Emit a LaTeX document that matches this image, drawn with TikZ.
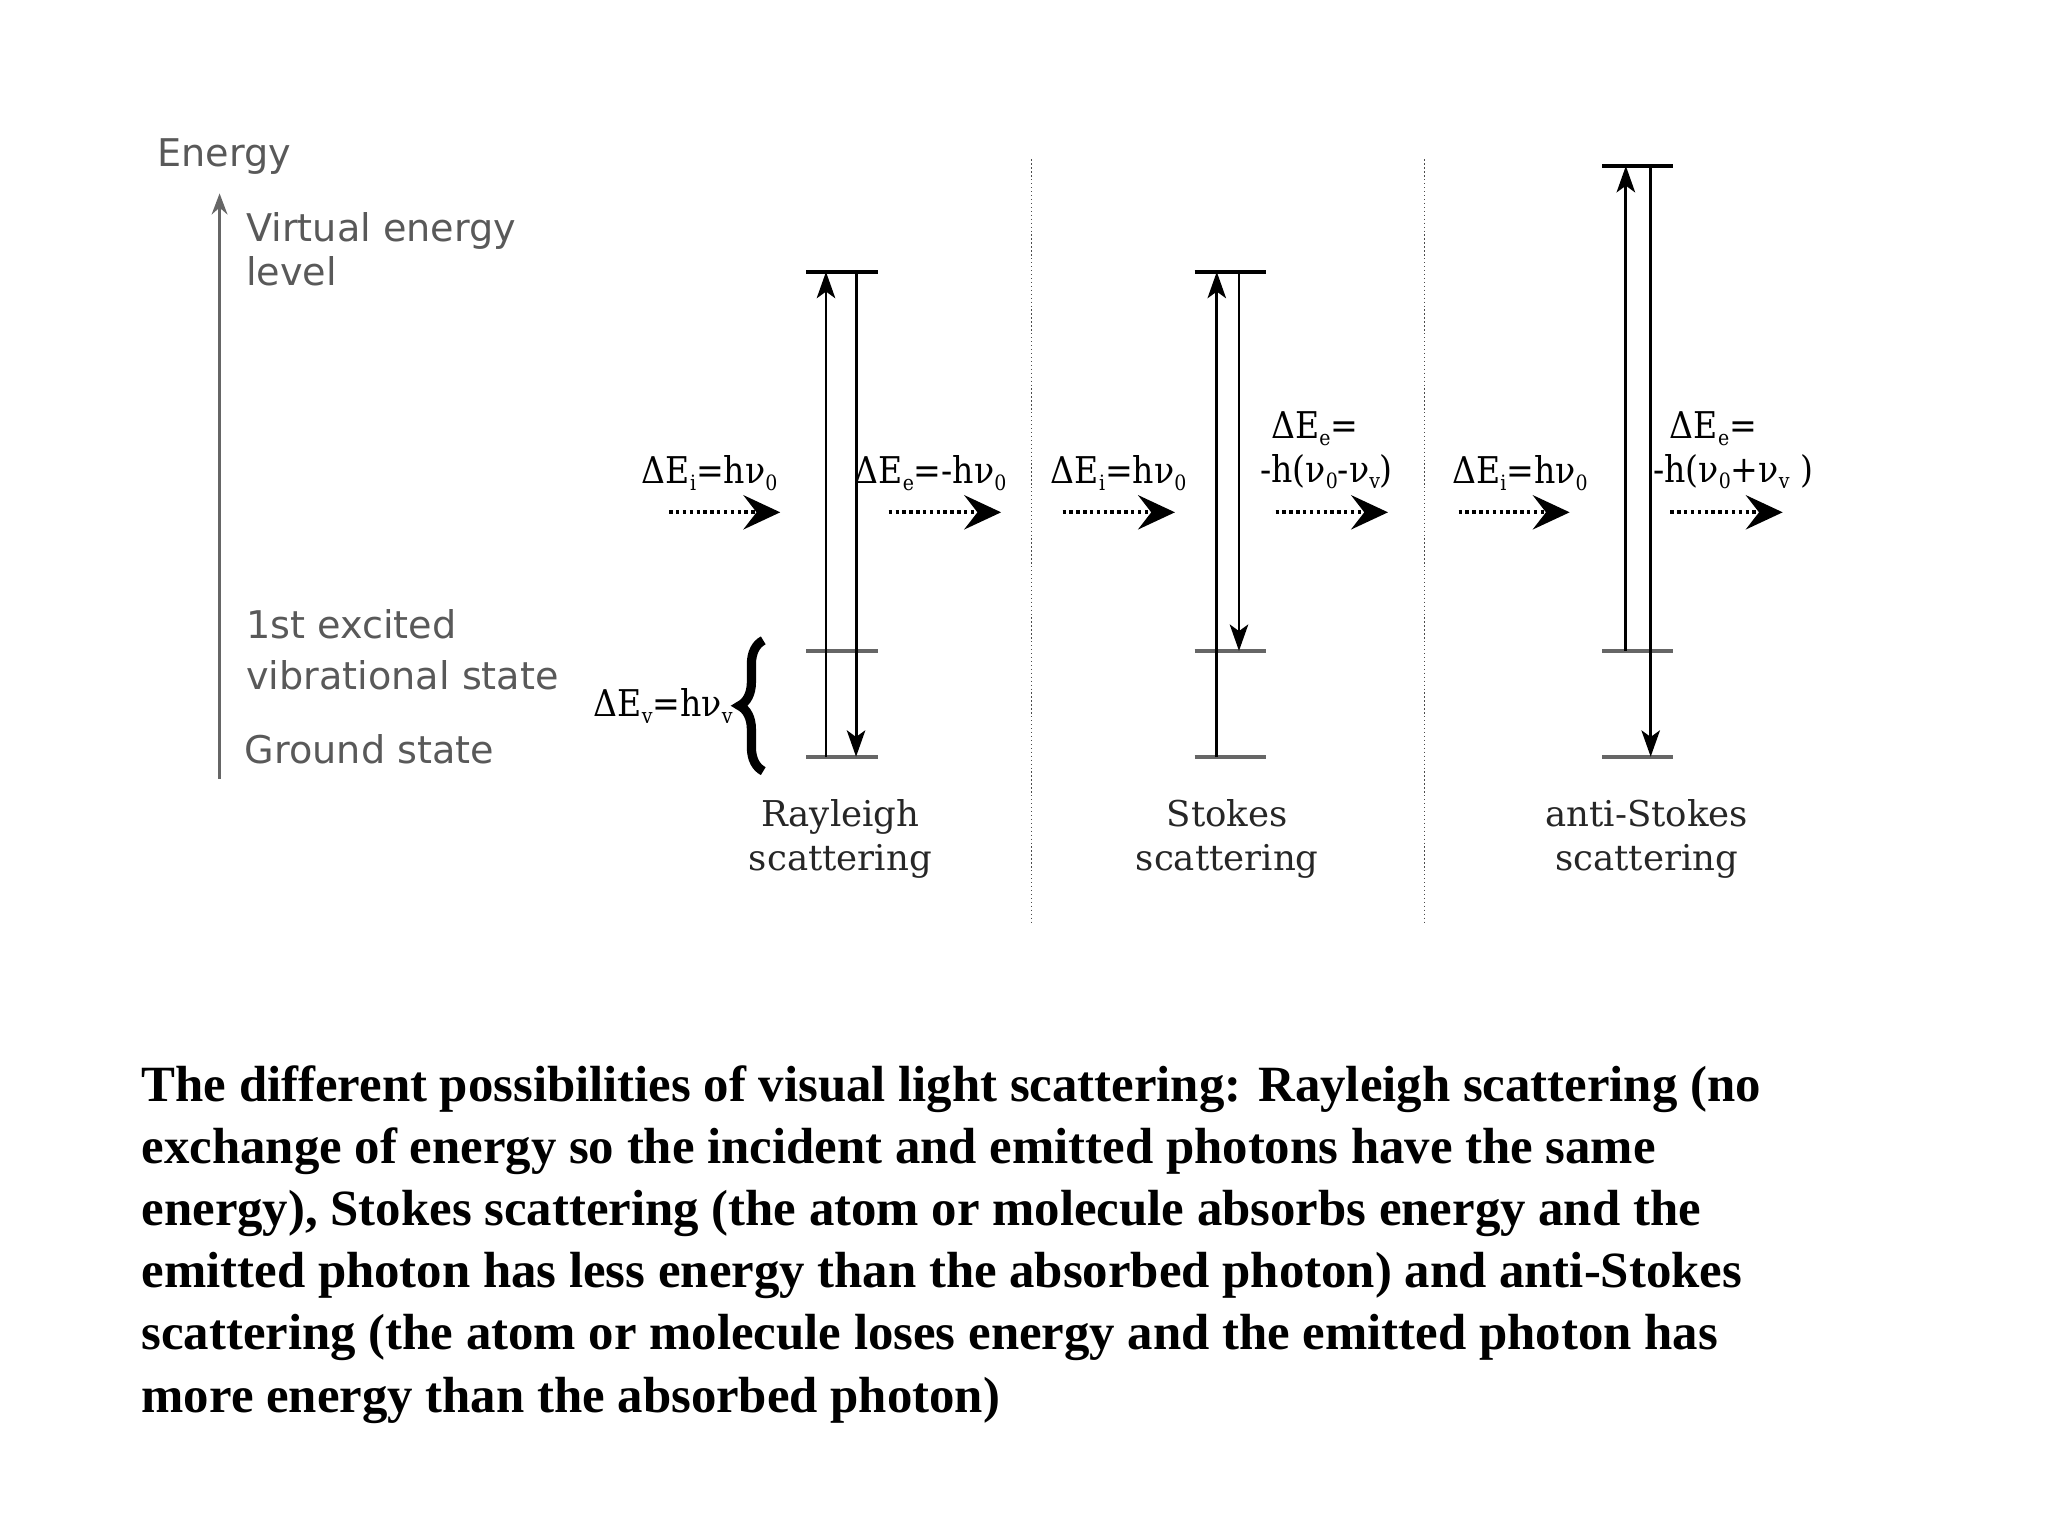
\documentclass[tikz,border=0pt]{standalone}
\usepackage{fontspec}
\setmainfont{Liberation Serif}
\newfontfamily\dsans{DejaVu Sans}
\newfontfamily\dserif{DejaVu Serif Condensed}
\newfontfamily\dserifn{DejaVu Serif}
\newcommand{\lo}[1]{\raisebox{-0.35ex}{\fontsize{8}{8}\selectfont #1}}
\usetikzlibrary{arrows.meta,decorations.pathreplacing}
\begin{document}
\begin{tikzpicture}[x=0.4965pt,y=-0.4965pt,
  lvl/.style={draw=black!60,line width=1.5pt},
  trans/.style={line width=1.1pt,-{Stealth[length=10pt,width=7pt,inset=2.5pt]}},
  photon/.style={line width=1.6pt,dash pattern=on 1.3pt off 1.3pt,-{Stealth[length=14pt,width=13pt,inset=5pt]}},
  divider/.style={densely dotted,line width=0.5pt,black!70},
  eq/.style={font=\dserif\fontsize{14}{16}\selectfont,inner sep=0pt},
  grey/.style={font=\dsans\fontsize{14.5}{17}\selectfont,text=black!65,inner sep=0pt,anchor=west},
  lab/.style={font=\dserifn\fontsize{13.5}{17}\selectfont,align=center,inner sep=0pt,text=black!85}]
\useasboundingbox (0,0) rectangle (1567,1175);
% axis
\coordinate (ax0) at (168,596);
\coordinate (ax1) at (168,148);
\draw[black!60,line width=1pt,-{Stealth[length=8pt,width=6pt]}] (ax0) -- (ax1);
\node[grey] (en) at (120,120) {Energy};
\node[grey,align=left,anchor=north west] (virt) at (188,162) {Virtual energy\\level};
\node[grey,align=left,anchor=north west,font=\dsans\fontsize{14.5}{19.5}\selectfont] (exc) at (188,466) {1st excited\\vibrational state};
\node[grey] (gs) at (187,573) {Ground state};
% dividers
\coordinate (d1a) at (789,122); \coordinate (d1b) at (789,706);
\coordinate (d2a) at (1090,122); \coordinate (d2b) at (1090,706);
\draw[divider] (d1a) -- (d1b);
\draw[divider] (d2a) -- (d2b);
% Rayleigh
\coordinate (r1) at (617,208); \coordinate (r2) at (672,208);
\coordinate (r3) at (617,498); \coordinate (r4) at (672,498);
\coordinate (r5) at (617,579); \coordinate (r6) at (672,579);
\draw[lvl] (r3)--(r4); \draw[lvl] (r5)--(r6);
\draw[line width=1.4pt] (r1)--(r2);
\coordinate (ru0) at (632,579); \coordinate (ru1) at (632,208);
\coordinate (rd0) at (655,208); \coordinate (rd1) at (655,579);
\draw[trans] (ru0)--(ru1);
\draw[trans] (rd0)--(rd1);
% Stokes
\coordinate (s1) at (914,208); \coordinate (s2) at (969,208);
\coordinate (s3) at (914,498); \coordinate (s4) at (969,498);
\coordinate (s5) at (914,579); \coordinate (s6) at (969,579);
\draw[lvl] (s3)--(s4); \draw[lvl] (s5)--(s6);
\draw[line width=1.4pt] (s1)--(s2);
\coordinate (su0) at (931,579); \coordinate (su1) at (931,208);
\coordinate (sd0) at (948,208); \coordinate (sd1) at (948,498);
\draw[trans] (su0)--(su1);
\draw[trans] (sd0)--(sd1);
% anti-Stokes
\coordinate (a1) at (1226,127); \coordinate (a2) at (1280,127);
\coordinate (a3) at (1226,498); \coordinate (a4) at (1280,498);
\coordinate (a5) at (1226,579); \coordinate (a6) at (1280,579);
\draw[lvl] (a3)--(a4); \draw[lvl] (a5)--(a6);
\draw[line width=1.4pt] (a1)--(a2);
\coordinate (au0) at (1244,498); \coordinate (au1) at (1244,127);
\coordinate (ad0) at (1263,127); \coordinate (ad1) at (1263,579);
\draw[trans] (au0)--(au1);
\draw[trans] (ad0)--(ad1);
% brace
\coordinate (b0) at (584,590); \coordinate (b1) at (584,490);
\draw[line width=3.5pt,decorate,decoration={brace,amplitude=9pt,aspect=0.5}] (b0)--(b1);
\node[eq,anchor=east] (dev) at (561,540) {ΔE\lo{v}=hν\lo{v}};
% photons
\foreach \n/\xa/\xb in {p1/512/597,p2/680/766,p3/813/899,p4/976/1062,p5/1116/1201,p6/1278/1364}{
  \coordinate (\n a) at (\xa,392); \coordinate (\n b) at (\xb,392);
  \draw[photon] (\n a)--(\n b);}
\node[eq] (l1) at (543,362) {ΔE\lo{i}=hν\lo{0}};
\node[eq] (l2) at (712,362) {ΔE\lo{e}=-hν\lo{0}};
\node[eq] (l3) at (856,362) {ΔE\lo{i}=hν\lo{0}};
\node[eq] (l4) at (1006,328) {ΔE\lo{e}=};
\node[eq] (l5) at (1015,361) {-h(ν\lo{0}-ν\lo{v})};
\node[eq] (l6) at (1163,362) {ΔE\lo{i}=hν\lo{0}};
\node[eq] (l7) at (1311,328) {ΔE\lo{e}=};
\node[eq] (l8) at (1326,361) {-h(ν\lo{0}+ν\lo{v} )};
% bottom labels
\node[lab] (n1) at (643,642) {Rayleigh\\scattering};
\node[lab] (n2) at (939,642) {Stokes\\scattering};
\node[lab] (n3) at (1260,642) {anti-Stokes\\scattering};
% caption
\node[anchor=north west,align=left,inner sep=0pt,font=\bfseries\fontsize{19.3}{23.6}\selectfont] (cap) at (108,815)
{The different possibilities of visual light scattering: Rayleigh scattering (no\\
exchange of energy so the incident and emitted photons have the same\\
energy), Stokes scattering (the atom or molecule absorbs energy and the\\
emitted photon has less energy than the absorbed photon) and anti-Stokes\\
scattering (the atom or molecule loses energy and the emitted photon has\\
more energy than the absorbed photon)};
\end{tikzpicture}
\end{document}
